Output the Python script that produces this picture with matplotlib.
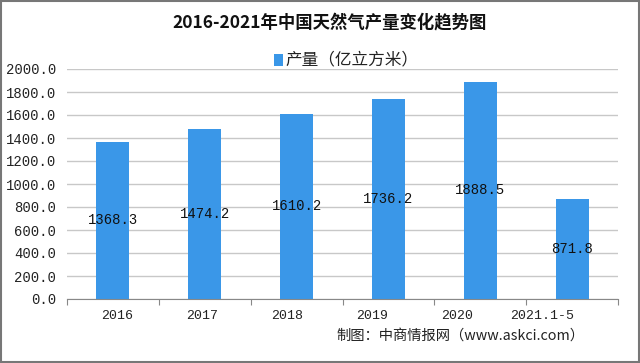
import matplotlib
matplotlib.use("Agg")
import matplotlib.pyplot as plt
from matplotlib.patches import Rectangle
import numpy as np

categories = ["2016", "2017", "2018", "2019", "2020", "2021.1-5"]
values = [1368.3, 1474.2, 1610.2, 1736.2, 1888.5, 871.8]
yticks = [0, 200, 400, 600, 800, 1000, 1200, 1400, 1600, 1800, 2000]

title = "2016-2021年中国天然气产量变化趋势图"
legend_label = "产量（亿立方米）"
source = "制图：中商情报网（www.askci.com）"

cjk = ["Noto Sans CJK SC", "DejaVu Sans"]
mono = ["Liberation Mono", "DejaVu Sans Mono"]

fig = plt.figure(figsize=(6.4, 3.63), dpi=100)
ax = fig.add_axes([67/640, 1-299/363, (618-67)/640, (299-69)/363])

x = np.arange(len(categories))
bar_color = "#3a97e8"
bars = ax.bar(x, values, width=0.36, color=bar_color, zorder=3, label=legend_label)

ax.set_xlim(-0.5, len(categories)-0.5)
ax.set_ylim(0, 2000)
ax.set_yticks(yticks)
ax.set_yticklabels([f"{v:.1f}" for v in yticks], fontfamily=mono, fontsize=10, color="#222222")
ax.yaxis.grid(True, color="#c8c8c8", linewidth=1.0, zorder=0)
ax.tick_params(axis="y", length=0, pad=8)

# category boundary ticks
ax.set_xticks(np.arange(-0.5, len(categories), 1.0))
ax.set_xticklabels([])
ax.tick_params(axis="x", which="major", length=4, color="#888888", direction="out")
# labels (slightly offset as in the reference)
label_pos = [0.045 + 0.925*i for i in range(len(categories))]
ax.set_xticks(label_pos, minor=True)
ax.set_xticklabels(categories, minor=True, fontfamily=mono, fontsize=9.5, color="#222222")
ax.tick_params(axis="x", which="minor", length=0, pad=8)

for s in ["left", "right", "top"]:
    ax.spines[s].set_visible(False)
ax.spines["bottom"].set_color("#888888")
ax.spines["bottom"].set_zorder(4)

for xi, v in zip(x, values):
    ax.text(xi, v/2, f"{v:.1f}", ha="center", va="center", fontfamily=mono,
            fontsize=10, color="#111111", zorder=5)

fig.text(330/640, 1-22/363, title, ha="center", va="center", fontfamily=cjk,
         fontsize=12.5, fontweight="bold", color="#111111")

# legend
fig.patches.append(Rectangle((274/640, 1-66/363), 9/640, 12/363, transform=fig.transFigure,
                             facecolor=bar_color, edgecolor="none"))
fig.text(285/640, 1-60/363, legend_label, ha="left", va="center", fontfamily=cjk,
         fontsize=12, color="#222222")

fig.text(584/640, 1-336/363, source, ha="right", va="center", fontfamily=cjk,
         fontsize=10.3, color="#222222")

fig.patches.append(Rectangle((0.001, 0.002), 0.997, 0.995, transform=fig.transFigure,
                             facecolor="none", edgecolor="#777777", linewidth=1.5))

fig.savefig("out.png", dpi=100)
